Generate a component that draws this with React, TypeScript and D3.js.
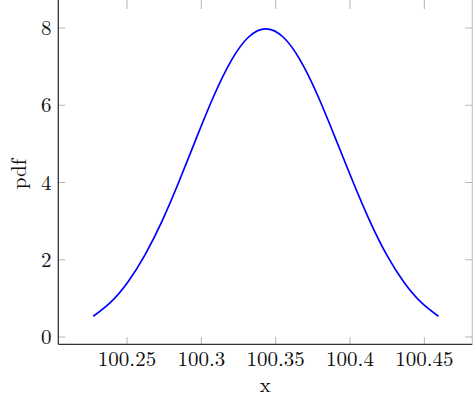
import * as d3 from "d3";

// points
const xValues = [
  100.2273, 100.2389, 100.2505, 100.2621, 100.2738, 100.2854, 100.297,
  100.3086, 100.3202, 100.3318, 100.3434, 100.355, 100.3666, 100.3782,
  100.3898, 100.4015, 100.4131, 100.4247, 100.4363, 100.4479, 100.4595,
];
const pdfValues = [
  0.538, 0.898, 1.42, 2.128, 3.022, 4.065, 5.182, 6.259, 7.163, 7.767, 7.979,
  7.767, 7.163, 6.259, 5.182, 4.065, 3.022, 2.128, 1.42, 0.898, 0.538,
];
const xTicks = [100.25, 100.3, 100.35, 100.4, 100.45];
const xTickLabels = ["100.25", "100.3", "100.35", "100.4", "100.45"];
const yTicks = [0, 2, 4, 6, 8];

const width = 474;
const height = 397;
const left = 58.3;
const right = 472.3;
const top = -1;
const bottom = 344.3;

const font = "'Latin Modern Roman', 'CMU Serif', 'Liberation Serif', serif";

export default function App() {
  // 100.25 -> 127, 0.05 per 74.3px
  const x = d3
    .scaleLinear()
    .domain([100.25, 100.4])
    .range([127, 350]);
  const y = d3.scaleLinear().domain([0, 8]).range([337, 28]);

  const points = xValues.map((v, i) => [v, pdfValues[i]] as [number, number]);
  const line = d3
    .line<[number, number]>()
    .x((d) => x(d[0]))
    .y((d) => y(d[1]))
    .curve(d3.curveNatural);

  const tickLen = 7;
  const tickColor = "#b4b4b4";

  return (
    <svg
      width={width}
      height={height}
      style={{ position: "absolute", left: 0, top: 0, background: "#fff" }}
      fontFamily={font}
    >
      {/* light frame on the right */}
      <line x1={right} x2={right} y1={0} y2={bottom} stroke="#c8c8c8" strokeWidth={1.2} />

      {/* ticks, mirrored on both sides */}
      {xTicks.map((t) => (
        <g key={"xt" + t}>
          <line x1={x(t)} x2={x(t)} y1={bottom} y2={bottom - tickLen} stroke={tickColor} strokeWidth={1} />
          <line x1={x(t)} x2={x(t)} y1={top} y2={top + tickLen + 3} stroke={tickColor} strokeWidth={1} />
        </g>
      ))}
      {yTicks.map((t) => (
        <g key={"yt" + t}>
          <line x1={left} x2={left + tickLen} y1={y(t)} y2={y(t)} stroke={tickColor} strokeWidth={1} />
          <line x1={right} x2={right - tickLen} y1={y(t)} y2={y(t)} stroke={tickColor} strokeWidth={1} />
        </g>
      ))}

      {/* left and bottom axis */}
      <line x1={left} x2={left} y1={0} y2={bottom} stroke="#333" strokeWidth={1.3} />
      <line x1={left} x2={right} y1={bottom} y2={bottom} stroke="#333" strokeWidth={1.3} />

      <path d={line(points) || ""} fill="none" stroke="#0000ff" strokeWidth={1.7} />

      {xTicks.map((t, i) => (
        <text key={"xl" + t} x={x(t)} y={366} textAnchor="middle" fontSize={21} fill="#111">
          {xTickLabels[i]}
        </text>
      ))}
      {yTicks.map((t) => (
        <text key={"yl" + t} x={51.5} y={y(t) + 7} textAnchor="end" fontSize={21} fill="#111">
          {t}
        </text>
      ))}

      <text x={(left + right) / 2} y={391.5} textAnchor="middle" fontSize={21} fill="#111">
        x
      </text>
      <text
        transform={`translate(26,174) rotate(-90)`}
        textAnchor="middle"
        fontSize={21}
        fill="#111"
      >
        pdf
      </text>
    </svg>
  );
}
